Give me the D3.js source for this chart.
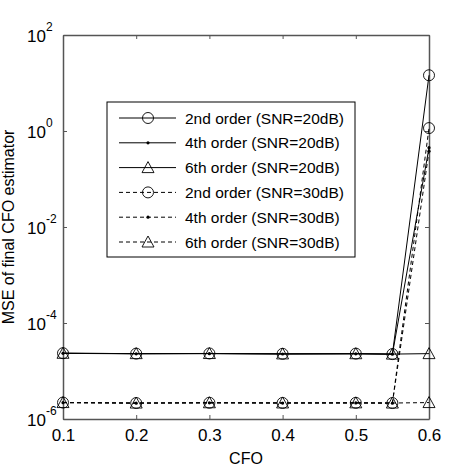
<!DOCTYPE html>
<meta charset="utf-8">
<style>
body { margin: 0; background: #fff; }
text { font-family: Arial, "Liberation Sans", sans-serif; fill: #000; }
.line { fill: none; stroke: #000; stroke-width: 1px; }
.frame line, .frame path { stroke: #555; }
</style>
<body>
<script src="https://d3js.org/d3.v7.min.js"></script>
<script>

// data
var cfo = [0.1, 0.2, 0.3, 0.4, 0.5, 0.55, 0.6];
var ord2_20 = [2.35e-5, 2.3e-5, 2.32e-5, 2.28e-5, 2.3e-5, 2.25e-5, 14.5];
var ord4_20 = [2.33e-5, 2.28e-5, 2.3e-5, 2.26e-5, 2.28e-5, 2.24e-5, 0.45];
var ord6_20 = [2.34e-5, 2.3e-5, 2.31e-5, 2.27e-5, 2.29e-5, 2.25e-5, 2.3e-5];
var ord2_30 = [2.2e-6, 2.15e-6, 2.18e-6, 2.16e-6, 2.17e-6, 2.15e-6, 1.15];
var ord4_30 = [2.19e-6, 2.14e-6, 2.17e-6, 2.15e-6, 2.16e-6, 2.14e-6, 0.38];
var ord6_30 = [2.2e-6, 2.15e-6, 2.18e-6, 2.16e-6, 2.17e-6, 2.15e-6, 2.2e-6];

var xTicks = [0.1, 0.2, 0.3, 0.4, 0.5, 0.6];
var yTicks = [-6, -4, -2, 0, 2];   // exponents of 10

var seriesNames = ["2nd order (SNR=20dB)", "4th order (SNR=20dB)", "6th order (SNR=20dB)",
                   "2nd order (SNR=30dB)", "4th order (SNR=30dB)", "6th order (SNR=30dB)"];
var seriesValues = [ord2_20, ord4_20, ord6_20, ord2_30, ord4_30, ord6_30];
var seriesMarker = ["circle", "dot", "triangle", "circle", "dot", "triangle"];
var seriesDashed = [false, false, false, true, true, true];

// dimensions
var margin = {top: 35, right: 45, bottom: 54, left: 63},
    width = 474 - margin.left - margin.right,
    height = 473 - margin.top - margin.bottom;

var x = d3.scaleLinear().domain([0.1, 0.6]).range([0, width]);
var y = d3.scaleLog().domain([1e-6, 1e2]).range([height, 0]);

var svg = d3.select("body").append("svg")
    .attr("width", 474)
    .attr("height", 473)
    .append("g")
    .attr("transform", "translate(" + margin.left + "," + margin.top + ")");

// axes (ticks inward)
svg.append("g").attr("class", "frame")
    .attr("transform", "translate(0," + height + ")")
    .call(d3.axisBottom(x).tickValues(xTicks).tickSizeInner(-4).tickSizeOuter(0).tickPadding(10)
        .tickFormat(d3.format(".1f")))
    .selectAll("text").style("font-size", "17px");

svg.append("g").attr("class", "frame")
    .call(d3.axisTop(x).tickValues(xTicks).tickSizeInner(-4).tickSizeOuter(0).tickFormat(""));

svg.append("g").attr("class", "frame")
    .call(d3.axisLeft(y).tickValues(yTicks.map(function(e) { return Math.pow(10, e); }))
        .tickSizeInner(-4).tickSizeOuter(0).tickFormat(""));

svg.append("g").attr("class", "frame")
    .attr("transform", "translate(" + width + ",0)")
    .call(d3.axisRight(y).tickValues(yTicks.map(function(e) { return Math.pow(10, e); }))
        .tickSizeInner(-4).tickSizeOuter(0).tickFormat(""));

svg.selectAll(".frame path").style("stroke-width", "1.5px");

// y tick labels as 10^n
var yl = svg.selectAll(".ylab").data(yTicks).enter().append("text")
    .attr("class", "ylab")
    .attr("x", -36)
    .attr("y", function(d) { return y(Math.pow(10, d)) + 7; })
    .style("font-size", "17px");
yl.append("tspan").text("10");
yl.append("tspan").attr("dy", -11).style("font-size", "12px").text(function(d) { return d; });

// axis titles
svg.append("text")
    .attr("x", width / 2)
    .attr("y", height + 45)
    .attr("text-anchor", "middle")
    .style("font-size", "16px")
    .text("CFO");

svg.append("text")
    .attr("transform", "translate(" + (-49) + "," + (height / 2) + ") rotate(-90)")
    .attr("text-anchor", "middle")
    .style("font-size", "16px")
    .text("MSE of final CFO estimator");

// markers
function drawMarker(g, type, px, py) {
  if (type === "circle") {
    g.append("circle").attr("cx", px).attr("cy", py).attr("r", 5.5)
      .attr("fill", "none").attr("stroke", "#000").attr("stroke-width", 0.9);
  } else if (type === "dot") {
    g.append("circle").attr("cx", px).attr("cy", py).attr("r", 1.6).attr("fill", "#000");
  } else {
    g.append("path")
      .attr("d", "M" + px + "," + (py - 6) + "L" + (px + 6) + "," + (py + 5) + "L" + (px - 6) + "," + (py + 5) + "Z")
      .attr("fill", "none").attr("stroke", "#000").attr("stroke-width", 0.9);
  }
}

var valueline = d3.line()
    .x(function(d) { return x(d[0]); })
    .y(function(d) { return y(d[1]); });

seriesValues.forEach(function(vals, i) {
  var pts = cfo.map(function(c, j) { return [c, vals[j]]; });
  var g = svg.append("g");
  g.append("path")
      .datum(pts)
      .attr("class", "line")
      .attr("stroke-dasharray", seriesDashed[i] ? "4,3" : null)
      .attr("d", valueline);
  pts.forEach(function(p) { drawMarker(g, seriesMarker[i], x(p[0]), y(p[1])); });
});

// legend
var lg = svg.append("g").attr("transform", "translate(" + (107 - margin.left) + "," + (102 - margin.top) + ")");
lg.append("rect").attr("width", 248).attr("height", 155)
    .attr("fill", "#fff").attr("stroke", "#000").attr("stroke-width", 1);

seriesNames.forEach(function(name, i) {
  var ry = 16 + i * 24.8;
  lg.append("line").attr("x1", 12).attr("x2", 69).attr("y1", ry).attr("y2", ry)
    .attr("stroke", "#000").attr("stroke-width", 1)
    .attr("stroke-dasharray", seriesDashed[i] ? "4,3" : null);
  drawMarker(lg, seriesMarker[i], 41, ry);
  lg.append("text").attr("x", 78).attr("y", ry).attr("dy", "0.36em")
    .style("font-size", "15.5px").text(name);
});

</script>
</body>
